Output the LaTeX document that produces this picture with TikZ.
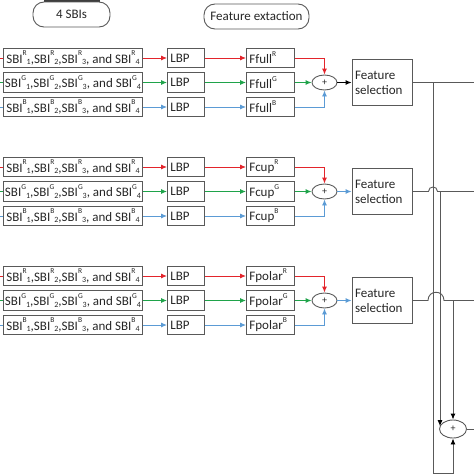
\documentclass[tikz,border=0pt]{standalone}
\usepackage{fontspec}
\setmainfont{Carlito}
\usetikzlibrary{arrows.meta,shapes.geometric}
\definecolor{cR}{HTML}{E3242B}
\definecolor{cG}{HTML}{1FA34A}
\definecolor{cB}{HTML}{5B9BD5}
\definecolor{bord}{HTML}{595959}
\definecolor{txt}{HTML}{262626}
\newcommand{\supx}[1]{\raisebox{7.2pt}{\fontsize{7.5}{8}\selectfont #1}}
\newcommand{\subx}[1]{\raisebox{-1.5pt}{\fontsize{8}{9}\selectfont #1}}
\newcommand{\sbis}[1]{SBI\supx{#1}\subx{1},SBI\supx{#1}\subx{2},SBI\supx{#1}\subx{3}, and SBI\supx{#1}\subx{4}}
\begin{document}
\begin{tikzpicture}[x=1pt,y=-1pt,
  every node/.style={font=\fontsize{13}{15}\selectfont, text=txt},
  box/.style={draw=bord, line width=0.9pt, minimum height=19.5pt, inner sep=0pt, anchor=west},
  sbibox/.style={box, minimum width=139pt},
  lbpbox/.style={box, text width=31pt, inner xsep=3pt, align=left},
  fbox/.style={box, text width=42pt, inner xsep=3pt, align=left},
  sumnode/.style={ellipse, draw=bord, line width=0.9pt, minimum width=25pt, minimum height=15pt, inner sep=0pt, font=\fontsize{10}{12}\selectfont},
  fsbox/.style={draw=bord, line width=0.9pt, minimum height=46pt, text width=54pt, inner xsep=3pt, align=left},
  header/.style={draw=bord, line width=0.9pt, rounded corners=11pt, minimum height=25pt, inner sep=0pt},
  arr/.style={-{Latex[length=6pt,width=5pt]}, line width=0.9pt},
  wire/.style={draw=bord, line width=0.9pt},
  tipb/.style={-{Latex[length=6pt,width=5pt,color=black]}},
]
\useasboundingbox (0,0) rectangle (474,474);
\fill[bord!70!black] (44,0) rectangle (100,1.5);
\node[header, minimum width=77pt] (h1) at (71.5,14.5) {4 SBIs};
\node[header, minimum width=105pt] (h2) at (256.5,16.5) {Feature extaction};

\foreach \g/\y/\nm/\ac in {1/58/full/black,2/167/cup/cB,3/276/polar/cB}{
  \foreach \ch/\dy/\col in {R/0/cR,G/24.5/cG,B/49/cB}{
    \node[sbibox] (s\ch\g) at (3,\y+\dy) {\sbis{\ch}};
    \node[lbpbox] (l\ch\g) at (167,\y+\dy) {LBP};
    \node[fbox] (f\ch\g) at (246,\y+\dy) {F\nm\supx{\ch}};
    \coordinate (in\ch\g) at (0,\y+\dy);
    \draw[\col, line width=0.9pt] (in\ch\g) -- (s\ch\g.west);
    \draw[arr,\col] (s\ch\g.east) -- (l\ch\g.west);
    \draw[arr,\col] (l\ch\g.east) -- (f\ch\g.west);
  }
  \node[sumnode] (p\g) at (324.5,\y+24.5) {+};
  \node[fsbox] (fs\g) at (382,\y+24.5) {Feature\\selection};
  \draw[arr,cR] (fR\g.east) -| (p\g.north);
  \draw[arr,cG] (fG\g.east) -- (p\g.west);
  \draw[arr,cB] (fB\g.east) -| (p\g.south);
  \draw[arr,\ac] (p\g.east) -- (fs\g.west);
}

\node[sumnode, minimum width=27pt, minimum height=18pt] (pF) at (453,429) {+};

\coordinate (o1) at (474,82.5);
\coordinate (o2) at (474,191.5);
\coordinate (o3) at (474,300.5);
\coordinate (oF) at (474,429);
\coordinate (t1) at (433,82.5);
\coordinate (t2) at (440,191.5);
\coordinate (t3) at (453,300.5);

\draw[wire] (fs1.east) -- (o1);
\draw[wire] (fs2.east) -- (428.5,191.5) .. controls (428.5,185.5) and (437.5,185.5) .. (437.5,191.5) -- (o2);
\draw[wire] (fs3.east) -- (428,300.5) .. controls (428,289.5) and (444,289.5) .. (444,300.5) -- (o3);

\draw[wire,tipb] (t1) -- (433,473) -| (pF.south);
\draw[wire,tipb] (t2) -- (t2 |- pF.168);
\draw[wire,tipb] (t3) -- (pF.north);
\draw[wire] (pF.east) -- (oF);
\end{tikzpicture}
\end{document}
